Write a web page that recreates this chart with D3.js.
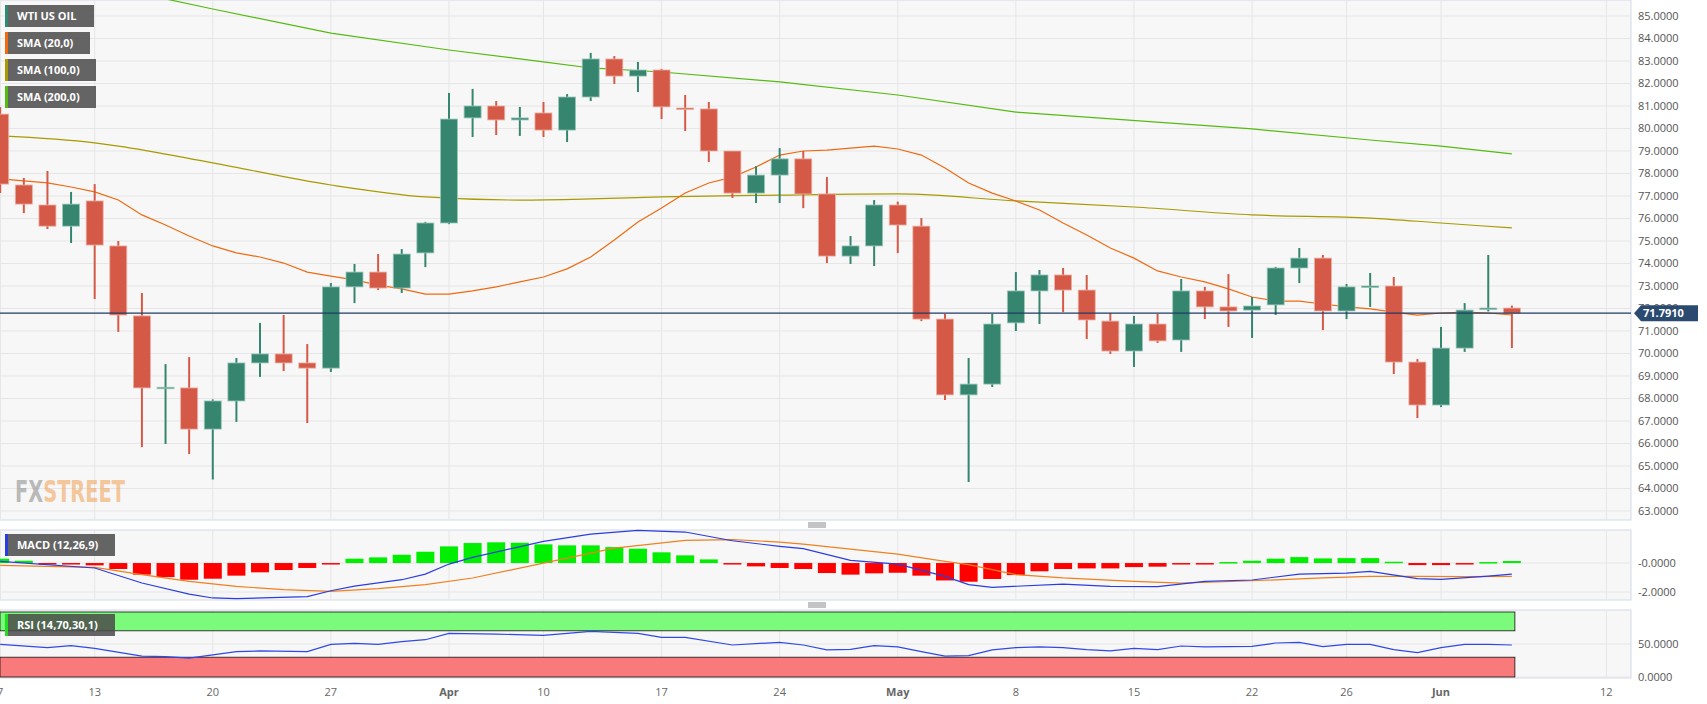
<!DOCTYPE html>
<html><head><meta charset="utf-8">
<script src="https://cdn.jsdelivr.net/npm/d3@7"></script>
<style>
body{margin:0;background:#fff;font-family:"Open Sans",Arial,sans-serif}
</style></head>
<body><svg id="chart" width="1707" height="704"></svg>
<script>
// trading-day candles, index 0 = Mar 7 ... 64 = Jun 6
const opens  = [80.64,77.49,76.60,75.66,76.78,74.78,71.67,68.47,68.47,66.64,67.89,69.58,69.98,69.58,69.35,72.96,73.62,72.91,74.47,75.80,80.47,81.00,80.38,80.69,79.93,81.40,83.09,82.33,82.60,80.91,80.87,79.00,77.13,77.93,78.65,77.09,74.33,74.78,76.60,75.66,71.53,68.16,68.64,71.36,72.78,73.49,72.82,71.44,70.11,71.31,70.60,72.78,72.07,71.93,72.16,73.80,74.24,71.89,72.98,73.00,69.62,67.71,70.24,71.98,72.02];
const closes = [77.53,76.64,75.66,76.64,74.82,71.71,68.47,68.50,66.64,67.89,69.58,69.98,69.58,69.35,72.96,73.62,72.91,74.42,75.80,80.42,81.00,80.38,80.47,79.93,81.40,83.09,82.33,82.60,80.96,80.87,79.00,77.13,77.93,78.65,77.09,74.33,74.78,76.60,75.71,71.53,68.16,68.64,71.31,72.78,73.49,72.82,71.49,70.11,71.31,70.56,72.78,72.07,71.89,72.11,73.80,74.24,71.89,72.96,73.00,69.62,67.71,70.24,71.93,72.02,71.79];
const highs  = [80.96,77.80,78.11,77.18,77.53,75.00,72.69,69.53,69.84,67.96,69.80,71.36,71.71,70.42,73.13,73.98,74.42,74.64,75.85,81.58,81.76,81.22,80.96,81.18,81.53,83.36,83.22,82.96,82.65,81.49,81.18,79.00,78.33,79.13,79.00,77.84,75.22,76.82,76.75,76.02,71.76,69.80,71.76,73.62,73.71,73.80,73.49,71.80,71.67,71.76,73.31,72.96,73.53,72.51,73.85,74.69,74.38,73.09,73.58,73.40,69.75,71.18,72.24,74.38,72.13];
const lows   = [77.13,76.24,75.53,74.91,72.42,70.96,65.84,65.98,65.53,64.40,66.96,68.96,69.22,66.91,69.18,72.24,72.82,72.69,73.84,75.75,79.62,79.71,79.67,79.62,79.40,81.22,81.98,81.62,80.42,79.89,78.51,76.91,76.69,76.69,76.46,74.02,73.98,73.89,74.46,71.44,67.93,64.29,68.51,71.00,71.31,71.84,70.64,69.98,69.40,70.47,70.07,71.53,71.18,70.69,71.71,73.13,71.04,71.53,72.07,69.09,67.13,67.62,70.07,71.87,70.24];
const lastPrice = 71.791;

const sma20 = [77.76,77.67,77.58,77.40,77.18,76.82,76.16,75.71,75.22,74.78,74.47,74.29,74.02,73.62,73.44,73.27,73.04,72.87,72.64,72.64,72.78,72.96,73.18,73.40,73.76,74.29,75.04,75.84,76.47,77.13,77.58,77.84,78.29,78.82,79.00,79.04,79.13,79.22,79.09,78.82,78.24,77.58,77.13,76.78,76.38,75.80,75.27,74.69,74.24,73.67,73.40,73.18,72.87,72.51,72.33,72.33,72.20,72.07,71.98,71.84,71.71,71.80,71.84,71.80,71.71];
const sma100Idx = [0,4,5,9,14,18,22,25,28,33,38,43,48,53,58,61,64];
const sma100Val = [79.67,79.36,79.22,78.47,77.49,76.96,76.82,76.87,76.96,77.04,77.09,76.78,76.51,76.16,76.02,75.80,75.58];
const sma200Idx = [7,9,14,19,23,25,28,33,38,43,53,58,61,64];
const sma200Val = [85.76,85.31,84.24,83.49,82.96,82.69,82.51,82.07,81.49,80.73,79.98,79.49,79.22,78.87];

const histo = [0.30,0.16,-0.05,-0.05,-0.16,-0.41,-0.80,-0.97,-1.15,-1.08,-0.87,-0.64,-0.48,-0.34,-0.02,0.30,0.39,0.57,0.78,1.15,1.38,1.43,1.40,1.29,1.22,1.22,1.10,0.99,0.74,0.53,0.25,-0.07,-0.23,-0.34,-0.41,-0.69,-0.80,-0.71,-0.67,-0.87,-1.20,-1.29,-1.10,-0.83,-0.57,-0.41,-0.37,-0.37,-0.28,-0.25,-0.09,-0.02,0.07,0.16,0.30,0.41,0.32,0.34,0.34,0.09,-0.14,-0.14,-0.01,0.07,0.14];
const macdIdx = [0,4,6,8,9,10,13,14,15,17,18,19,20,23,25,27,29,31,33,34,36,38,40,41,42,45,47,49,51,53,55,57,58,60,61,63,64];
const macdVal = [0.11,-0.34,-1.38,-2.14,-2.41,-2.46,-2.32,-1.91,-1.59,-1.15,-0.76,-0.07,0.39,1.49,1.99,2.25,2.14,1.54,1.15,0.99,0.18,-0.07,-0.92,-1.49,-1.68,-1.45,-1.61,-1.63,-1.26,-1.17,-0.76,-0.69,-0.57,-1.08,-1.13,-0.90,-0.76];
const signalIdx = [0,4,6,8,10,12,14,16,18,20,23,26,29,31,33,34,38,40,41,43,45,48,50,53,56,58,60,62,64];
const signalVal = [-0.16,-0.30,-0.80,-1.26,-1.61,-1.84,-1.95,-1.77,-1.49,-1.03,0,1.03,1.56,1.61,1.45,1.31,0.62,0.11,-0.11,-0.80,-1.03,-1.26,-1.38,-1.22,-1.03,-0.92,-0.92,-0.94,-0.92];
const rsiIdx = [0,2,3,4,6,7,8,9,10,11,13,14,15,16,17,18,19,21,23,25,27,28,29,31,33,34,35,36,37,38,39,40,41,42,43,44,45,46,47,48,49,50,51,53,54,55,56,57,58,59,60,61,62,63,64];
const rsiVal = [49.5,44.5,47.5,43.5,31.5,31,28.5,33.5,38.5,39.5,38.5,49.5,51,49.5,53.5,56.5,66,65,63,69,66,60,60,48.5,52.5,48.5,41,42,47.5,45.5,38.5,31.5,32.5,41,44.5,45.5,44.5,41.5,39.5,43.5,41.5,47,45.5,46.5,51.5,52.5,46,49.5,49.5,41.5,37,44.5,49.5,49.5,48.5];

const xTickIdx = [0,4,9,14,19,23,28,33,38,43,48,53,57,61,68];
const xTickLab = ["7","13","20","27","Apr","10","17","24","May","8","15","22","26","Jun","12"];
const priceTicks = d3.range(63,86);
const legend = [["WTI US OIL","#2f8a75",94],["SMA (20,0)","#f06a10",90],["SMA (100,0)","#a89a00",96],["SMA (200,0)","#55bb11",96]];

const svg = d3.select("#chart");
const W = 1631;
const x = d3.scaleLinear().domain([0,1]).range([0.2,23.82]);
const y = d3.scaleLinear().domain([62.6,85.711]).range([520,0]);
const ym = d3.scaleLinear().domain([-2.55,2.28]).range([600,530]);
const yr = d3.scaleLinear().domain([0,50]).range([677,644]);
const green = "#35856f", red = "#d45a47";

// panels
[[0,520],[530,600],[610,678]].forEach(([t,b])=>{
  svg.append("rect").attr("x",0).attr("y",t).attr("width",W).attr("height",b-t)
    .attr("fill","#f7f7f7").attr("stroke","#d3d9e6");
});
// vertical grid
xTickIdx.forEach(i=>{
  [[0,520],[530,600],[610,678]].forEach(([t,b])=>{
    svg.append("line").attr("x1",x(i)).attr("x2",x(i)).attr("y1",t).attr("y2",b).attr("stroke","#e6e6e6");
  });
});
priceTicks.forEach(v=>{
  svg.append("line").attr("x1",0).attr("x2",W).attr("y1",y(v)).attr("y2",y(v)).attr("stroke","#e6e6e6");
  svg.append("text").attr("x",1638).attr("y",y(v)+4).attr("font-size",11).attr("fill","#555").text(v.toFixed(4));
});
[0,-2].forEach(v=>{
  svg.append("line").attr("x1",0).attr("x2",W).attr("y1",ym(v)).attr("y2",ym(v)).attr("stroke","#e6e6e6");
  svg.append("text").attr("x",1638).attr("y",ym(v)+4).attr("font-size",11).attr("fill","#555").text(v===0?"-0.0000":"-2.0000");
});
[0,50].forEach(v=>{
  svg.append("line").attr("x1",0).attr("x2",W).attr("y1",yr(v)).attr("y2",yr(v)).attr("stroke","#e6e6e6");
  svg.append("text").attr("x",1638).attr("y",yr(v)+4).attr("font-size",11).attr("fill","#555").text(v.toFixed(4));
});
// handles
[525,605].forEach(h=>{
  [-2,0,2].forEach(d=>svg.append("line").attr("x1",808).attr("x2",826).attr("y1",h+d).attr("y2",h+d).attr("stroke","#888"));
});
// x labels
xTickIdx.forEach((i,k)=>{
  const bold = isNaN(+xTickLab[k]);
  svg.append("text").attr("x",x(i)).attr("y",696).attr("text-anchor","middle").attr("font-size",11)
    .attr("font-weight",bold?"bold":"normal").attr("fill","#666").text(xTickLab[k]);
});

// watermark
const wm = svg.append("text").attr("x",15).attr("y",502).attr("font-size",30).attr("font-weight","bold")
  .attr("textLength",110).attr("lengthAdjust","spacingAndGlyphs")
  .attr("font-family","'Liberation Sans Narrow','DejaVu Sans Condensed',sans-serif").attr("opacity",0.55);
wm.append("tspan").attr("fill","#888").text("FX");
wm.append("tspan").attr("fill","#f0a050").text("STREET");

const main = svg.append("g");
const idx = d3.range(opens.length);
const line = d3.line().x(d=>x(d[0])).y(d=>d[1]);
main.append("path").datum(sma200Idx.map((i,k)=>[i,y(sma200Val[k])])).attr("d",line).attr("fill","none").attr("stroke","#55bb11").attr("stroke-width",1.2);
main.append("path").datum(sma100Idx.map((i,k)=>[i,y(sma100Val[k])])).attr("d",d3.line().x(d=>x(d[0])).y(d=>d[1]).curve(d3.curveMonotoneX)).attr("fill","none").attr("stroke","#a89a00").attr("stroke-width",1.2);
main.append("path").datum(idx.map(i=>[i,y(sma20[i])])).attr("d",line).attr("fill","none").attr("stroke","#f06a10").attr("stroke-width",1.2);

idx.forEach(i=>{
  const up = closes[i]>=opens[i], c = up?green:red;
  main.append("line").attr("x1",x(i)).attr("x2",x(i)).attr("y1",y(highs[i])).attr("y2",y(lows[i])).attr("stroke",c).attr("stroke-width",2);
  const t = y(Math.max(opens[i],closes[i])), b = y(Math.min(opens[i],closes[i]));
  main.append("rect").attr("x",x(i)-8.5).attr("y",t).attr("width",17).attr("height",Math.max(1.5,b-t))
    .attr("fill",c).attr("stroke",up?"#9cc7bb":"#eeb0a6").attr("stroke-width",0.8);
});
// last price
main.append("line").attr("x1",0).attr("x2",W).attr("y1",y(lastPrice)).attr("y2",y(lastPrice)).attr("stroke","#1f3b64").attr("stroke-width",1.2);
const ly = y(lastPrice);
svg.append("path").attr("d",`M1634,${ly} L1641,${ly-8} L1698,${ly-8} L1698,${ly+8} L1641,${ly+8} Z`).attr("fill","#2b4a6f");
svg.append("text").attr("x",1643).attr("y",ly+4).attr("font-size",11).attr("font-weight","bold").attr("fill","#fff").text(lastPrice.toFixed(4));

// MACD
idx.forEach(i=>{
  const v = histo[i];
  svg.append("rect").attr("x",x(i)-9).attr("y",ym(Math.max(0,v))).attr("width",18)
    .attr("height",Math.max(1.5,Math.abs(ym(v)-ym(0)))).attr("fill",v>=0?"#00ee00":"#ff0000");
});
svg.append("path").datum(signalIdx.map((i,k)=>[i,ym(signalVal[k])])).attr("d",line).attr("fill","none").attr("stroke","#f08020").attr("stroke-width",1.2);
svg.append("path").datum(macdIdx.map((i,k)=>[i,ym(macdVal[k])])).attr("d",line).attr("fill","none").attr("stroke","#2a3de0").attr("stroke-width",1.2);

// RSI
const rEnd = x(64)+3;
svg.append("rect").attr("x",0).attr("y",612).attr("width",rEnd).attr("height",yr(70)-612).attr("fill","#7cfa7c").attr("stroke","#111").attr("stroke-width",0.8);
svg.append("rect").attr("x",0).attr("y",yr(30)).attr("width",rEnd).attr("height",677-yr(30)).attr("fill","#f87a7a").attr("stroke","#111").attr("stroke-width",0.8);
svg.append("path").datum(rsiIdx.map((i,k)=>[i,yr(rsiVal[k])])).attr("d",line).attr("fill","none").attr("stroke","#3049e6").attr("stroke-width",1.2);

// legends
function label(txt,col,w,top){
  svg.append("rect").attr("x",5).attr("y",top).attr("width",w-5).attr("height",22).attr("fill","#4a4a4a").attr("opacity",0.85);
  svg.append("rect").attr("x",5).attr("y",top).attr("width",3).attr("height",22).attr("fill",col);
  svg.append("text").attr("x",17).attr("y",top+15).attr("font-size",11).attr("font-weight","bold").attr("fill","#fff").text(txt);
}
legend.forEach((l,k)=>label(l[0],l[1],l[2],5+k*27));
label("MACD (12,26,9)","#2a3de0",115,534);
label("RSI (14,70,30,1)","#22dd22",115,614);
</script></body></html>
